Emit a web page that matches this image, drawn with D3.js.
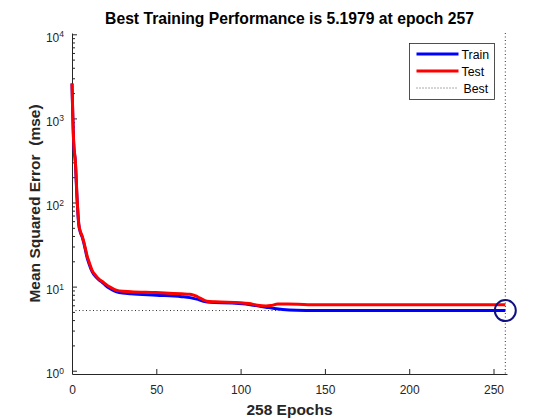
<!DOCTYPE html>
<html>
<head>
<meta charset="utf-8">
<script src="https://cdn.jsdelivr.net/npm/d3@7"></script>
<style>
  body { margin: 0; background: #fff; }
  text { font-family: "Liberation Sans", Arial, Helvetica, sans-serif; }
</style>
</head>
<body>
<div class="chart"></div>
<script>
// values
const trainEpochs = [0, 1, 2, 3, 4, 5, 6, 7, 8, 9, 10, 12, 14, 16, 18, 20, 22, 25, 28, 35, 50, 65, 70, 74, 78, 82, 95, 103, 110, 115, 120, 125, 133, 145, 257];
const trainMse = [2600, 500, 300, 110, 55, 44, 39, 33, 27, 22, 19, 15, 13.2, 12, 11.2, 10.3, 9.6, 8.9, 8.5, 8.2, 7.9, 7.6, 7.4, 7.1, 6.7, 6.5, 6.4, 6.2, 5.9, 5.7, 5.5, 5.36, 5.25, 5.21, 5.1979];
const testEpochs = [0, 1, 2, 3, 4, 5, 6, 7, 8, 9, 10, 12, 14, 16, 18, 20, 22, 25, 28, 35, 50, 65, 70, 73, 76, 80, 85, 100, 105, 110, 115, 118, 122, 128, 140, 257];
const testMse = [2600, 520, 310, 115, 56, 45, 40, 34, 28, 23, 20, 15.5, 13.6, 12.3, 11.5, 10.7, 10, 9.3, 8.9, 8.7, 8.5, 8.2, 8.1, 7.8, 7.3, 6.7, 6.6, 6.45, 6.3, 6.0, 5.88, 5.95, 6.2, 6.2, 6.1, 6.1];
const bestEpoch = 257;
const bestPerf = 5.1979;
const totalEpochs = 258;
const xTicks = [0, 50, 100, 150, 200, 250];
const yDecades = [0, 1, 2, 3, 4];
const legendNames = ["Train", "Test", "Best"];

const train = trainEpochs.map((e, i) => ({ epoch: e, mse: trainMse[i] }));
const test = testEpochs.map((e, i) => ({ epoch: e, mse: testMse[i] }));

const margin = { top: 33, right: 53, bottom: 46, left: 72 },
  width = 560 - margin.left - margin.right,
  height = 420 - margin.top - margin.bottom;
const ink = "#262626";

const root = d3.select(".chart")
  .append("svg")
  .attr("width", 560)
  .attr("height", 420);

const svg = root.append("g")
  .attr("transform", `translate(${margin.left},${margin.top})`);

const x = d3.scaleLinear()
  .domain([0, totalEpochs])
  .range([0, width]);

const y = d3.scaleLog()
  .domain([Math.pow(10, -0.039), Math.pow(10, 4.0155)])
  .range([height, 0]);

// minor log ticks
const minors = [];
yDecades.slice(0, -1).forEach(p => {
  for (let k = 2; k <= 9; k++) minors.push(k * Math.pow(10, p));
});

svg.append("g")
  .attr("class", "axis y-minor")
  .call(d3.axisLeft(y).tickValues(minors).tickSize(-3).tickSizeOuter(0).tickFormat(""))
  .call(g => g.select(".domain").remove())
  .call(g => g.selectAll(".tick line").attr("stroke", ink));

const xAxis = svg.append("g")
  .attr("class", "axis x-axis")
  .attr("transform", `translate(0,${height})`)
  .call(d3.axisBottom(x).tickValues(xTicks).tickSize(-5).tickSizeOuter(0).tickPadding(11));
xAxis.selectAll("text").attr("font-size", 12).attr("fill", ink);
xAxis.selectAll("line, path").attr("stroke", ink);

const yAxis = svg.append("g")
  .attr("class", "axis y-axis")
  .call(d3.axisLeft(y).tickValues(yDecades.map(p => Math.pow(10, p))).tickSize(-5).tickSizeOuter(0).tickFormat(""));
yAxis.selectAll("line, path").attr("stroke", ink);
yAxis.selectAll(".tick")
  .append("text")
  .attr("x", -8)
  .attr("y", 7)
  .attr("text-anchor", "end")
  .attr("fill", ink)
  .attr("font-size", 12)
  .each(function(d) {
    const t = d3.select(this);
    t.append("tspan").text("10");
    t.append("tspan").attr("font-size", 8.5).attr("dy", -4.5).text(Math.round(Math.log10(d)));
  });

// best lines
svg.append("line")
  .attr("x1", x(0)).attr("x2", x(bestEpoch))
  .attr("y1", y(bestPerf)).attr("y2", y(bestPerf))
  .attr("stroke", "#333").attr("stroke-width", 1).attr("stroke-dasharray", "1,2.5");

svg.append("line")
  .attr("x1", x(bestEpoch)).attr("x2", x(bestEpoch))
  .attr("y1", 0).attr("y2", height)
  .attr("stroke", "#333").attr("stroke-width", 1).attr("stroke-dasharray", "1,2.5");

const line = d3.line()
  .x(d => x(d.epoch))
  .y(d => y(d.mse))
  .curve(d3.curveMonotoneX);

svg.append("path")
  .datum(train)
  .attr("fill", "none")
  .attr("stroke", "#0000ff")
  .attr("stroke-width", 3)
  .attr("d", line);

svg.append("path")
  .datum(test)
  .attr("fill", "none")
  .attr("stroke", "#ff0000")
  .attr("stroke-width", 3)
  .attr("d", line);

svg.append("circle")
  .attr("cx", x(bestEpoch))
  .attr("cy", y(bestPerf))
  .attr("r", 10.5)
  .attr("fill", "none")
  .attr("stroke", "#101080")
  .attr("stroke-width", 2);

// titles
root.append("text")
  .text("Best Training Performance is 5.1979 at epoch 257")
  .attr("x", margin.left + width / 2)
  .attr("y", 24)
  .attr("text-anchor", "middle")
  .attr("font-size", 15.7)
  .attr("font-weight", "bold")
  .attr("fill", "#000");

root.append("text")
  .text("258 Epochs")
  .attr("x", margin.left + width / 2)
  .attr("y", 415)
  .attr("text-anchor", "middle")
  .attr("font-size", 15.5)
  .attr("font-weight", "bold")
  .attr("fill", ink);

root.append("text")
  .text("Mean Squared Error  (mse)")
  .attr("transform", `translate(40,${margin.top + height / 2}) rotate(-90)`)
  .attr("text-anchor", "middle")
  .attr("font-size", 15.5)
  .attr("font-weight", "bold")
  .attr("fill", ink)
  .style("white-space", "pre");

// legend
const legend = root.append("g").attr("transform", "translate(409.5,43.5)");
legend.append("rect")
  .attr("width", 85).attr("height", 56)
  .attr("fill", "#fff").attr("stroke", ink).attr("stroke-width", 0.8);

const legendStyle = [
  { stroke: "#0000ff", w: 3, dash: null },
  { stroke: "#ff0000", w: 3, dash: null },
  { stroke: "#555", w: 1, dash: "1,2" }
];
legend.selectAll(".entry")
  .data(legendNames)
  .enter()
  .append("g")
  .attr("class", "entry")
  .attr("transform", (d, i) => `translate(0,${10.5 + i * 17})`)
  .each(function(d, i) {
    const g = d3.select(this);
    const s = legendStyle[i];
    g.append("line")
      .attr("x1", 7).attr("x2", 49)
      .attr("stroke", s.stroke).attr("stroke-width", s.w)
      .attr("stroke-dasharray", s.dash);
    g.append("text")
      .text(d)
      .attr("x", i === 2 ? 54 : 52)
      .attr("y", 4.5)
      .attr("font-size", 12.3)
      .attr("fill", "#000");
  });
</script>
</body>
</html>
